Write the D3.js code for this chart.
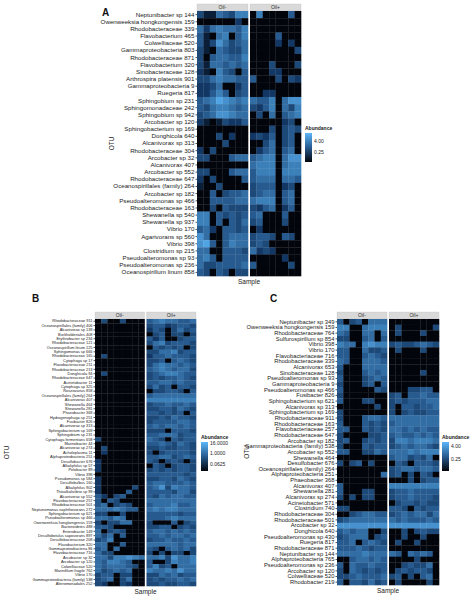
<!DOCTYPE html><html><head><meta charset="utf-8"><script src="https://cdn.jsdelivr.net/npm/d3@7"></script>
<style>body{margin:0;background:#fff}svg{font-family:"Liberation Sans",Arial,sans-serif}</style></head><body>
<script>
const facets=["Oil-","Oil+"];
const otuA=["Neptunibacter sp 144","Owenweeksia hongkongensis 159","Rhodobacteraceae 339","Flavobacterium 465","Colwelliaceae 520","Gammaproteobacteria 803","Rhodobacteraceae 871","Flavobacterium 320","Sinobacteraceae 128","Arthrospira platensis 901","Gammaproteobacteria 9","Ruegeria 817","Sphingobium sp 231","Sphingomonadaceae 242","Sphingobium sp 942","Arcobacter sp 120","Sphingobacterium sp 169","Donghicola 640","Alcanivorax sp 313","Rhodobacteraceae 304","Arcobacter sp 32","Alcanivorax 407","Arcobacter sp 552","Rhodobacteraceae 647","Oceanospirillales (family) 264","Arcobacter sp 182","Pseudoalteromonas sp 466","Rhodobacteraceae 163","Shewanella sp 540","Shewanella sp 937","Vibrio 170","Agarivorans sp 560","Vibrio 398","Clostridium sp 215","Pseudoalteromonas sp 93","Pseudoalteromonas sp 236","Oceanospirillum linum 858"];
const valsA=["3115436606000040","0000002000000000","5256554600000000","4105604600004000","4137534500002020","3105433500000003","3045544600000000","3155454500030003","2106430400022000","3356554440003032","2235002400000000","2246403400220000","4568765654460577","4356654532460536","3457765503050456","2101322400000230","0000000000030343","0003020023240340","0000300000350340","2030000002450450","3300045545660577","0000000056660566","3300045546660666","2030000445550554","1003000034440230","0040344534550450","0044445556660450","0030433332450240","6604343445000400","6604043534000300","4520443402000000","7500455534430430","7840465534300000","5500444352320000","5640444400000200","5334444540000030","4304303300000000"];
const otuB=["Rhodobacteraceae 911","Oceanospirillales (family) 406","Alcanivorax sp 139","Burkholderiales 408","Erythrobacter sp 234","Rhodobacteraceae 121","Oceanospirillum linum 125","Sphingomonas sp 666","Rhodobacteraceae 165","Cytophaga sp 17","Flavobacteriaceae 211","Rhodobacteraceae 213","Donghicola 94","Rhodobacteraceae 647","Acinetobacter 11","Cytophaga sp 325","Roseovarius 858","Oceanospirillales (family) 264","Alcanivorax 407","Shewanella 464","Shewanella 281","Phaeobacter 368","Hydrogenophaga sp 251","Fusibacter 826","Alcanivorax sp 313","Sphingobacterium sp 169","Sphingobium sp 231","Cytophaga fermentans 658","Marinobacter 44","Alcanivorax sp 274","Acholeplasma 11","Alphaproteobacteria 251","Desulfobacter 676","Alkaliphilus sp 57","Pelobacter 89","Vibrio 398","Pseudomonas sp 584","Desulfobulbus 160","Alkaliphilus 902","Thioalkalivibrio sp 99","Alcanivorax sp 552","Flavobacteriaceae 257","Rhodobacteraceae 501","Neptunomonas naphthovorans 272","Sphingobacterium sp 621","Pseudoalteromonas sp 466","Owenweeksia hongkongensis 159","Bacteroidetes 488","Enterobacter 149","Desulfobotulus sapovorans 897","Desulfobacteraceae 208","Flavobacterium 320","Gammaproteobacteria 86","Flavobacteriaceae 716","Arcobacter sp 32","Arcobacter sp 120","Colwelliaceae 520","Marinifilum fragile 762","Vibrio 170","Gammaproteobacteria (family) 538","Alteromonadales 252"];
const valsB=["0300300045655445","0000000034423443","0000000024303534","0000000003403303","0000000042400344","0000000035634443","0000000004343403","0000000033556344","0300000024454443","0000000033404543","0000000035655454","0000000045654553","0300000034566544","0000000034344543","0000000044554544","0000000035340443","0000000003344304","0000000045555555","0000000066666666","0000000034454454","0000000033443543","0000000044343404","0000000033435443","0000000034444554","0000000045455454","0000000033304443","0000000044555344","3000000054304344","0000000044543543","0300000033433443","0200000030344443","0000000044553454","2000000043034303","2000000004303443","2000000034343443","0000000044444434","2000000033443543","2000000045544454","2000003045736554","2000040044443553","4203400043545544","4043000055555555","4503430045556445","5556544056566555","3300300044444344","5546500044456555","3033550030004034","4430000033440343","5034300045545454","5350400044545545","3460000034454454","5500400055555455","4505000043045453","5330000030303303","5536676555637556","5466540040036556","5455543046340555","5345450065565755","3440330033545344","3450350034344545","3200320033433443"];
const otuC=["Neptunibacter sp 349","Owenweeksia hongkongensis 159","Rhodobacteraceae 764","Sulfurospirillum sp 854","Vibrio 398","Vibrio 170","Flavobacteriaceae 716","Rhodobacteraceae 339","Alcanivorax 653","Sinobacteraceae 128","Pseudoalteromonas sp 93","Gammaproteobacteria 9","Pseudoalteromonas sp 466","Fusibacter 826","Sphingobacterium sp 621","Alcanivorax sp 313","Sphingobacterium sp 169","Rhodobacteraceae 911","Rhodobacteraceae 163","Flavobacteriaceae 257","Rhodobacteraceae 647","Arcobacter sp 182","Gammaproteobacteria (family) 538","Arcobacter sp 552","Shewanella 464","Desulfobacter 676","Oceanospirillales (family) 264","Alphaproteobacteria 251","Phaeobacter 368","Alcanivorax 407","Shewanella 281","Alcanivorax sp 274","Acinetobacter 571","Clostridium 740","Rhodobacteraceae 304","Rhodobacteraceae 501","Arcobacter sp 32","Donghicola 640","Pseudoalteromonas sp 430","Ruegeria 817","Rhodobacteraceae 871","Neptunibacter sp 144","Alphaproteobacteria 765","Pseudoalteromonas sp 236","Arcobacter sp 120","Colwelliaceae 520","Rhodobacter 219"];
const valsC=["4034055500000000","6600566603000003","5400550503000300","3300450400000000","6550676634334543","4400533403000300","4400454300000000","5400555400000000","4000555500000000","3000454500000300","4000345400000000","3000340400000000","4000004300033440","3000000034044544","4000330034344455","0000003030443445","3000000030343344","3000455455555555","4000434345555555","4400434355454544","3000033445445454","3400343436656665","3000434434545543","4400335455565666","0000000045534350","3034030004304443","0000000034554554","0000000534030430","0000000000030344","4000000066666666","4000330034454444","3030330034454443","0000000003443433","3300000044304344","0034554434545535","3455555554544454","7777777777777777","4545500300303433","3455503400300300","4450454303003000","4445434400000000","5555655554054540","0045545400003000","4054454400343350","3054343403434430","3345444534030450","4044353403000030"];
const legA=["4.00","0.25"], legB=["16.0000","1.0000","0.0625"], legC=["4.00","0.25"];

const W=474,H=597;
const svg=d3.select("body").append("svg").attr("width",W).attr("height",H);
const color=d3.scaleLinear().domain([0,2,9]).range(["#02050b","#123764","#5cb6f9"]);
function panel(p){
  const g=svg.append("g");
  const nc=8, fw=(p.x1-p.x0-2)/2;
  const y=d3.scaleBand().domain(p.otu).range([p.y0,p.y1]);
  facets.forEach((f,fi)=>{
    const fx=p.x0+fi*(fw+2);
    const x=d3.scaleBand().domain(d3.range(nc)).range([fx,fx+fw]);
    g.append("rect").attr("x",fx).attr("y",p.y0-7).attr("width",fw).attr("height",7).attr("fill","#d9d9d9").attr("stroke","#bbb").attr("stroke-width",0.3);
    g.append("text").attr("x",fx+fw/2).attr("y",p.y0-2).attr("text-anchor","middle").attr("font-size",5).attr("fill","#333").text(f);
    p.otu.forEach((o,i)=>{const s=p.vals[i];
      for(let c=0;c<nc;c++) g.append("rect").attr("x",x(c)).attr("y",y(o)).attr("width",x.bandwidth()+0.3).attr("height",y.bandwidth()+0.3).attr("fill",color(+s[fi*8+c]));});
  });
  const ax=g.append("g").attr("transform",`translate(${p.x0},0)`).call(d3.axisLeft(y).tickSize(1.5).tickPadding(1));
  ax.select(".domain").remove();
  ax.selectAll("line").attr("stroke","#555");
  ax.selectAll("text").attr("font-size",p.fs).attr("fill","#222").attr("font-family","Liberation Sans, Arial");
  g.append("text").attr("x",(p.x0+p.x1)/2).attr("y",p.y1+8).attr("text-anchor","middle").attr("font-size",6.5).attr("fill","#222").text("Sample");
  g.append("text").attr("transform",`translate(${p.otuX},${(p.y0+p.y1)/2}) rotate(-90)`).attr("text-anchor","middle").attr("font-size",6.5).attr("fill","#222").text("OTU");
  g.append("text").attr("x",p.lx).attr("y",p.ly).attr("font-size",5).attr("font-weight","bold").attr("fill","#222").text("Abundance");
  const id="gr"+p.name;
  const gr=svg.append("defs").append("linearGradient").attr("id",id).attr("x1",0).attr("x2",0).attr("y1",0).attr("y2",1);
  [0,0.5,1].forEach((t,i)=>gr.append("stop").attr("offset",t).attr("stop-color",color([9,4,0][i])));
  g.append("rect").attr("x",p.lx).attr("y",p.ly+3).attr("width",7).attr("height",29).attr("fill",`url(#${id})`);
  const ls=d3.scalePoint().domain(p.leg).range(p.legR);
  p.leg.forEach(t=>g.append("text").attr("x",p.lx+9).attr("y",ls(t)+1.8).attr("font-size",5).attr("fill","#222").text(t));
  g.append("text").attr("x",p.lab[0]).attr("y",p.lab[1]).attr("font-size",10).attr("font-weight","bold").attr("fill","#111").text(p.name);
}
panel({name:"A",otu:otuA,vals:valsA,x0:197,x1:301,y0:11,y1:276,fs:6.2,otuX:114,lx:305,ly:130,leg:legA,legR:[141,152],lab:[102,16]});
panel({name:"B",otu:otuB,vals:valsB,x0:95,x1:196,y0:319,y1:586,fs:3.9,otuX:9,lx:201,ly:439,leg:legB,legR:[443,464],lab:[32,302]});
panel({name:"C",otu:otuC,vals:valsC,x0:337,x1:439,y0:319,y1:585,fs:5.8,otuX:249,lx:442,ly:439,leg:legC,legR:[446,459],lab:[270,302]});
</script></body></html>
